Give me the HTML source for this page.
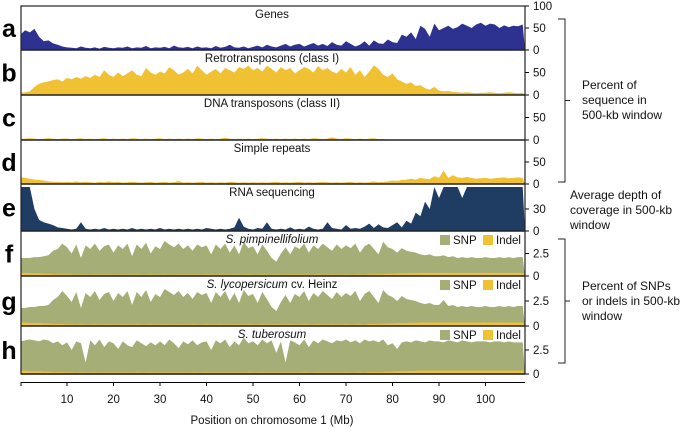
<!DOCTYPE html>
<html><head><meta charset="utf-8"><style>
html,body{margin:0;padding:0;background:#fff;}
svg{display:block;font-family:"Liberation Sans",sans-serif;}
</style></head><body>
<svg id="chart" width="685" height="429" viewBox="0 0 685 429"></svg>
<script>
const positions=[...Array(109).keys()];
const genes=[35,45,40,48,30,20,22,15,12,8,6,5,4,8,5,4,6,3,7,5,4,6,5,8,4,6,5,9,4,6,5,7,4,10,6,5,7,4,8,5,6,4,9,5,7,12,6,5,8,4,7,10,6,12,8,6,10,14,8,12,14,8,12,16,10,14,9,18,12,10,20,14,8,12,20,10,22,15,14,24,18,16,35,30,40,25,55,48,30,60,45,50,55,48,52,60,55,50,58,62,55,60,58,50,56,52,55,54,58];
const retro=[5,6,8,18,25,28,30,33,35,30,38,35,40,36,42,38,45,40,55,45,40,50,42,48,55,45,42,60,50,45,52,48,62,55,45,50,58,48,65,55,45,52,58,48,60,55,50,62,58,65,55,60,52,65,58,50,62,55,60,48,55,62,58,50,64,55,60,52,48,58,50,62,45,55,40,52,66,58,45,40,48,35,30,25,28,20,22,15,12,18,10,8,9,7,6,5,6,5,4,5,5,6,5,4,5,6,5,4,5];
const dnaT=[2,3,4,3,2,3,4,3,2,3,3,2,3,4,2,3,2,3,4,2,3,2,3,2,4,3,2,3,2,3,4,2,3,2,3,2,3,2,4,3,2,3,2,3,5,3,2,3,2,3,2,3,4,3,2,3,2,3,2,3,2,3,2,4,3,2,3,6,3,2,4,3,2,3,2,3,4,2,2,1,1,1,1,1,1,1,1,1,1,1,1,1,1,1,1,1,1,1,1,1,1,1,1,1,1,1,1,1,1];
const repeats=[16,14,12,10,9,8,6,5,5,4,5,4,6,4,5,4,3,5,4,6,4,5,3,4,5,4,3,4,5,3,4,5,3,4,7,3,4,3,4,5,3,4,3,4,3,5,4,3,4,3,4,3,4,3,4,5,3,4,3,4,5,3,4,3,4,5,4,3,4,3,4,5,3,4,3,4,6,4,5,6,8,7,9,10,12,10,14,12,11,18,14,30,14,20,15,14,16,14,12,13,14,12,13,14,15,13,14,15,14];
const rna=[60,60,60,30,15,12,10,8,5,4,3,2,3,12,3,2,3,2,4,2,3,2,3,2,4,2,3,2,3,2,4,2,3,2,3,2,3,2,3,2,4,3,2,3,2,3,5,18,6,3,2,4,3,12,3,2,3,2,5,2,3,2,6,3,2,3,12,4,3,2,8,3,4,3,6,10,4,9,5,4,8,12,5,14,10,25,20,40,30,60,45,60,60,60,60,45,60,60,60,60,60,60,60,60,60,60,60,60,60];
const snpF=[2.0,2.0,2.0,2.1,2.1,2.2,2.3,2.8,3.0,3.6,3.2,2.5,3.5,2.0,3.4,3.0,3.6,2.8,3.3,3.5,2.6,3.4,3.0,3.6,2.2,3.5,3.0,3.7,2.5,3.3,3.0,3.9,3.5,3.2,3.6,3.0,3.4,2.8,3.5,3.2,3.4,2.4,3.5,3.0,3.6,2.6,3.4,2.4,3.8,3.1,3.3,2.4,3.5,2.8,2.0,1.6,2.5,3.2,2.4,3.3,3.0,3.6,2.6,3.4,3.0,3.6,3.2,2.8,3.5,3.0,3.4,3.1,3.6,2.6,3.3,3.6,3.0,2.4,3.8,3.2,3.0,2.6,3.1,2.8,2.7,2.6,2.4,2.3,2.4,2.2,2.2,2.3,2.1,2.2,2.0,2.1,2.0,2.1,2.0,2.0,2.1,2.0,2.0,2.1,2.0,2.1,2.0,2.1,2.1];
const snpG=[1.8,1.8,1.9,1.9,2.0,2.0,2.1,2.6,2.9,3.5,3.0,2.4,3.4,1.8,3.3,2.9,3.5,2.6,3.2,3.4,2.5,3.3,2.9,3.5,2.1,3.4,2.9,3.6,2.4,3.2,2.9,3.7,3.4,3.1,3.5,2.9,3.3,2.7,3.4,3.1,3.3,2.3,3.4,2.9,3.5,2.5,3.3,2.3,3.6,3.0,3.2,2.3,3.4,2.7,1.9,1.5,2.4,3.1,2.3,3.2,2.9,3.5,2.5,3.3,2.9,3.5,3.1,2.7,3.4,2.9,3.3,3.0,3.5,2.5,3.2,3.5,2.9,2.3,3.6,3.1,2.9,2.5,3.0,2.7,2.6,2.5,2.3,2.2,2.3,2.1,2.1,2.6,2.0,2.1,1.9,2.0,1.9,2.0,1.9,1.9,2.0,1.9,1.9,2.0,1.9,2.0,1.9,2.0,2.0];
const snpH=[3.4,3.5,3.6,3.5,3.4,3.6,3.5,3.2,3.4,3.0,3.3,2.5,3.4,3.2,1.2,3.5,3.0,3.6,2.8,3.4,3.2,2.6,3.4,3.0,2.8,3.5,3.2,2.9,3.3,3.0,3.4,3.0,3.6,3.2,2.7,3.4,3.1,3.5,3.0,3.3,3.4,2.5,3.5,3.2,3.6,2.8,3.4,3.0,3.8,3.2,3.4,3.0,3.6,3.2,3.5,2.2,3.4,1.2,3.5,3.3,3.0,3.6,2.8,3.5,3.2,3.6,3.4,3.2,3.5,3.4,3.6,3.3,3.5,3.2,3.6,3.4,3.5,3.3,3.6,3.0,3.2,2.6,3.3,3.4,3.3,3.5,3.4,3.3,3.5,3.4,3.4,3.3,3.5,3.4,3.3,3.5,3.4,3.3,3.4,3.4,3.4,3.3,3.4,3.4,3.3,3.4,3.3,3.3,3.3];
const indel=[0.35,0.35,0.3,0.3,0.3,0.25,0.25,0.2,0.2,0.2,0.18,0.18,0.15,0.18,0.15,0.15,0.18,0.15,0.15,0.18,0.15,0.15,0.18,0.15,0.15,0.18,0.15,0.15,0.18,0.15,0.15,0.18,0.15,0.15,0.18,0.15,0.15,0.18,0.15,0.15,0.18,0.15,0.15,0.18,0.15,0.15,0.18,0.15,0.15,0.18,0.15,0.15,0.18,0.15,0.15,0.18,0.15,0.15,0.18,0.15,0.15,0.18,0.15,0.15,0.18,0.15,0.15,0.18,0.15,0.15,0.18,0.15,0.15,0.18,0.15,0.2,0.2,0.2,0.22,0.25,0.25,0.28,0.3,0.3,0.32,0.32,0.35,0.35,0.35,0.35,0.35,0.35,0.35,0.35,0.35,0.35,0.35,0.35,0.35,0.35,0.35,0.35,0.35,0.35,0.35,0.35,0.35,0.35,0.35];
const xTicks=[10,20,30,40,50,60,70,80,90,100];

const NS='http://www.w3.org/2000/svg';
const svg=document.getElementById('chart');
function mk(tag,attrs,parent){const e=document.createElementNS(NS,tag);for(const k in attrs)e.setAttribute(k,attrs[k]);(parent||svg).appendChild(e);return e;}
const X0=21,X1=525;
function xs(v){return 20.5+v*4.65;}
function area(vals,top,base,max,color,name){
  const h=base-top;
  let d='M'+xs(positions[0])+','+base;
  vals.forEach((v,i)=>{const y=base-Math.min(v,max)/max*h;d+=' L'+Math.min(xs(positions[i]),X1)+','+y.toFixed(2);});
  d+=' L'+X1+','+base+' Z';
  const p=mk('path',{d:d,fill:color});
  
  
}
const panels=[
 {l:'a',top:6,base:50,max:100,series:[[genes,'#2d318f','genes-area']],title:'Genes',ticks:[[100,'100'],[50,'50'],[0,'0']]},
 {l:'b',top:50,base:95,max:100,series:[[retro,'#f0c132','retrotransposons-area']],title:'Retrotransposons (class I)',ticks:[[50,'50'],[0,'0']]},
 {l:'c',top:95,base:140,max:100,series:[[dnaT,'#f0c132','dna-transposons-area']],title:'DNA transposons (class II)',ticks:[[50,'50'],[0,'0']]},
 {l:'d',top:140,base:184,max:100,series:[[repeats,'#f0c132','simple-repeats-area']],title:'Simple repeats',ticks:[[50,'50'],[0,'0']]},
 {l:'e',top:184,base:231,max:64,series:[[rna,'#1f3c63','rna-seq-area']],title:'RNA sequencing',ticks:[[30,'30'],[0,'0']]},
 {l:'f',top:231,base:276,max:5,series:[[snpF,'#a5ae76','snp-pimpinellifolium-area'],[indel,'#f0c132','indel-pimpinellifolium-area']],title:'<tspan font-style="italic">S. pimpinellifolium</tspan>',ticks:[[2.5,'2.5'],[0,'0']],leg:true},
 {l:'g',top:276,base:326,max:5,series:[[snpG,'#a5ae76','snp-heinz-area'],[indel,'#f0c132','indel-heinz-area']],title:'<tspan font-style="italic">S. lycopersicum</tspan> cv. Heinz',ticks:[[2.5,'2.5'],[0,'0']],leg:true},
 {l:'h',top:326,base:374,max:5,series:[[snpH,'#a5ae76','snp-tuberosum-area'],[indel,'#f0c132','indel-tuberosum-area']],title:'<tspan font-style="italic">S. tuberosum</tspan>',ticks:[[2.5,'2.5'],[0,'0']],leg:true}
];
panels.forEach(p=>{
  p.series.forEach(s=>area(s[0],p.top,p.base,p.max,s[1],s[2]));
  const t=mk('text',{x:272,y:p.top+12,'text-anchor':'middle','font-size':11.5,fill:'#111'});
  t.innerHTML=p.title;
  
  
  const lt=mk('text',{x:9,y:(p.top+p.base)/2+9,'text-anchor':'middle','font-size':25,'font-weight':'bold',fill:'#000'});
  lt.textContent=p.l;
  
  
  p.ticks.forEach(tk=>{
    const y=p.base-tk[0]/p.max*(p.base-p.top);
    mk('line',{x1:X1,x2:X1+4,y1:y,y2:y,stroke:'#000','stroke-width':1});
    const tl=mk('text',{x:533,y:y+4,'font-size':11.5,fill:'#111'});
    tl.textContent=tk[1];
    
    
  });
  mk('line',{x1:X0,x2:X1,y1:p.base,y2:p.base,stroke:'#222','stroke-width':1.6});
  if(p.leg){
    const g=mk('g',{});
    
    
    mk('rect',{x:440,y:p.top+4,width:10,height:10,fill:'#a5ae76'},g);
    const a=mk('text',{x:453,y:p.top+13,'font-size':11.5,fill:'#111'},g);a.textContent='SNP';
    mk('rect',{x:483,y:p.top+4,width:10,height:10,fill:'#f0c132'},g);
    const b=mk('text',{x:496,y:p.top+13,'font-size':11.5,fill:'#111'},g);b.textContent='Indel';
  }
});
mk('rect',{x:X0,y:6,width:X1-X0,height:368,fill:'none',stroke:'#222','stroke-width':1.2});
mk('line',{x1:X0,x2:X1,y1:382.5,y2:382.5,stroke:'#000','stroke-width':1});
mk('line',{x1:X0,x2:X0,y1:382,y2:386,stroke:'#000'});
xTicks.forEach(v=>{
  mk('line',{x1:xs(v),x2:xs(v),y1:382,y2:386,stroke:'#000'});
  const t=mk('text',{x:xs(v),y:403,'text-anchor':'middle','font-size':11.5,fill:'#111'});
  t.textContent=v;
  
  
});
const xt=mk('text',{x:272,y:424,'text-anchor':'middle','font-size':11.5,fill:'#111'});
xt.textContent='Position on chromosome 1 (Mb)';


function bracket(y1,y2,name){
  const ym=(y1+y2)/2;
  const p=mk('path',{d:`M558,${y1} L565,${y1} L565,${y2} L558,${y2} M565,${ym} L570,${ym}`,fill:'none',stroke:'#222','stroke-width':1});
  
  
}
bracket(19,182,'bracket-sequence');
bracket(239,363,'bracket-snps');
function lines(x,ys,txts,name){
  const t=mk('text',{x:x,'font-size':12,fill:'#111'});
  
  
  txts.forEach((s,i)=>{const ts=mk('tspan',{x:x,y:ys[i]},t);ts.textContent=s;});
}
lines(582,[89,104,119],['Percent of','sequence in','500-kb window'],'annotation-percent-sequence');
lines(570,[199,214,229],['Average depth of','coverage in 500-kb','window'],'annotation-rna-depth');
lines(582,[290,305,320],['Percent of SNPs','or indels in 500-kb','window'],'annotation-percent-snps');
</script>
</body></html>
